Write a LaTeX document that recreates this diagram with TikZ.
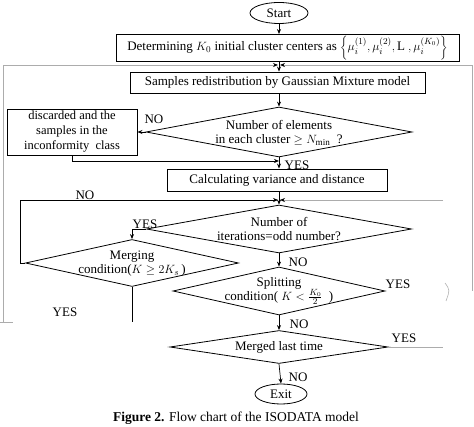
\documentclass[tikz,border=0pt]{standalone}
\usepackage{fontspec}
\setmainfont{Liberation Serif}
\usetikzlibrary{shapes.geometric,arrows.meta}
\begin{document}
\begin{tikzpicture}[x=1pt,y=-1pt,
  txt/.style={font=\fontsize{13}{14}\selectfont, align=center, inner sep=0},
  box/.style={draw, line width=0.9pt, rectangle, inner sep=0, align=center, font=\fontsize{13}{14}\selectfont},
  dia/.style={draw, line width=0.8pt, diamond, inner sep=0},
  ell/.style={draw, line width=0.8pt, ellipse, inner sep=0, font=\fontsize{13}{14}\selectfont},
  lbl/.style={font=\fontsize{13}{14}\selectfont, inner sep=0},
  con/.style={line width=0.7pt},
  arr/.style={con, -{Stealth[length=5pt,width=4pt]}},
  gline/.style={draw=gray!65, line width=0.9pt},
  garr/.style={gline, -{Stealth[length=5pt,width=4pt,color=black]}}
]
\fill[white] (0,0) rectangle (474,427);
\useasboundingbox (0,0) rectangle (474,427);

% nodes
\node[ell, minimum width=58, minimum height=21] (start) at (279,13) {Start};
\node[box, minimum width=343, minimum height=27] (det) at (287.5,48)
  {Determining $K_0$ initial cluster centers as $\left\{\mu_i^{(1)},\mu_i^{(2)},\mathrm{L}\ ,\mu_i^{(K_0)}\right\}$};
\node[box, minimum width=295, minimum height=21] (smp) at (277.5,82.5) {Samples redistribution by Gaussian Mixture model};
\node[dia, minimum width=266, minimum height=50, aspect=5.3] (d1) at (279,132) {};
\node[txt] (d1t) at (279,133) {Number of elements\\in each cluster $\geq N_{\min}$\ \ ?};
\node[box, minimum width=130, minimum height=46, font=\fontsize{12.5}{15}\selectfont] (dis) at (72,132)
  {discarded and the\\samples in the\\inconformity\ \ class};
\node[box, minimum width=220, minimum height=22] (calc) at (277,180) {Calculating variance and distance};
\node[dia, minimum width=265, minimum height=48, aspect=5.5] (d2) at (279,229) {};
\node[txt] (d2t) at (279,229) {Number of\\iterations=odd number?};
\node[dia, minimum width=213, minimum height=47, aspect=4.5] (mrg) at (132,263) {};
\node[txt] (mrgt) at (132,264) {Merging\\condition($K\geq 2K_s$\,)};
\node[dia, minimum width=212, minimum height=48, aspect=4.4] (spl) at (279,291) {};
\node[txt] (splt) at (279,291) {Splitting\\condition( $K<{\textstyle\frac{K_0}{2}}$\ \ )};
\node[dia, minimum width=218, minimum height=33, aspect=6.6] (mlt) at (279,347) {};
\node[txt] (mltt) at (279,347) {Merged last time};
\node[ell, minimum width=52, minimum height=20] (exit) at (281,394) {Exit};
\node[font=\fontsize{13.5}{15}\selectfont, anchor=base, inner sep=0] (cap) at (236,422)
  {\textbf{Figure 2.} Flow chart of the ISODATA model};

% coordinates
\coordinate (J1) at (279,65);
\coordinate (LTL) at (3,65);
\coordinate (LTR) at (472,65);
\coordinate (LBL) at (3,322);
\coordinate (LRB) at (472,291);
\coordinate (LB0) at (0,322);
\coordinate (LB1) at (13,322);
\coordinate (J2) at (279,161);
\coordinate (J3) at (279,200);
\coordinate (NL) at (20,200);
\coordinate (RR) at (443,200);
\coordinate (MB) at (132,322);
\coordinate (R2) at (443,347);

% connectors
\draw[arr] (start.south) -- (start.south |- det.north);
\draw[arr] (det.south -| J1) -- (smp.north -| J1);
\draw[garr] (LBL) -- (LTL) -- ([xshift=-1pt]J1);
\draw[garr] (LRB) -- (LTR) -- ([xshift=1pt]J1);
\draw[gline] (LB0) -- (LB1);
\draw[arr] (smp.south -| d1.north) -- (d1.north);
\draw[arr] (d1.west) -- (dis.east);
\draw[arr] (dis.south) |- (J2);
\draw[arr] (d1.south) -- (calc.north -| d1.south);
\draw[arr] (calc.south -| d2.north) -- (d2.north);
\draw[arr] (mrg.west) -| (NL) -- ([xshift=-1pt]J3);
\draw[garr] (RR) -- ([xshift=1pt]J3);
\draw[arr] (d2.west) -| (mrg.north);
\draw[arr] (d2.south) -- (spl.north);
\draw[con] (mrg.south) -- (MB);
\draw[arr] (spl.south) -- (mlt.north);
\draw[gline] (mlt.east) -- (R2);
\draw[arr] (mlt.south) -- (exit.north);
\draw[gray!60, line width=0.6pt] (445,283) .. controls (450,290) .. (446,301);

% labels
\node[lbl] (no1) at (154,119) {NO};
\node[lbl] (yes1) at (297,165) {YES};
\node[lbl] (no2) at (85,195) {NO};
\node[lbl] (yes2) at (145,224) {YES};
\node[lbl] (no3) at (298,262) {NO};
\node[lbl] (yes3) at (398,284) {YES};
\node[lbl] (yes4) at (65,312) {YES};
\node[lbl] (no4) at (299,324) {NO};
\node[lbl] (yes5) at (404,338) {YES};
\node[lbl] (no5) at (298,377) {NO};
\end{tikzpicture}
\end{document}
